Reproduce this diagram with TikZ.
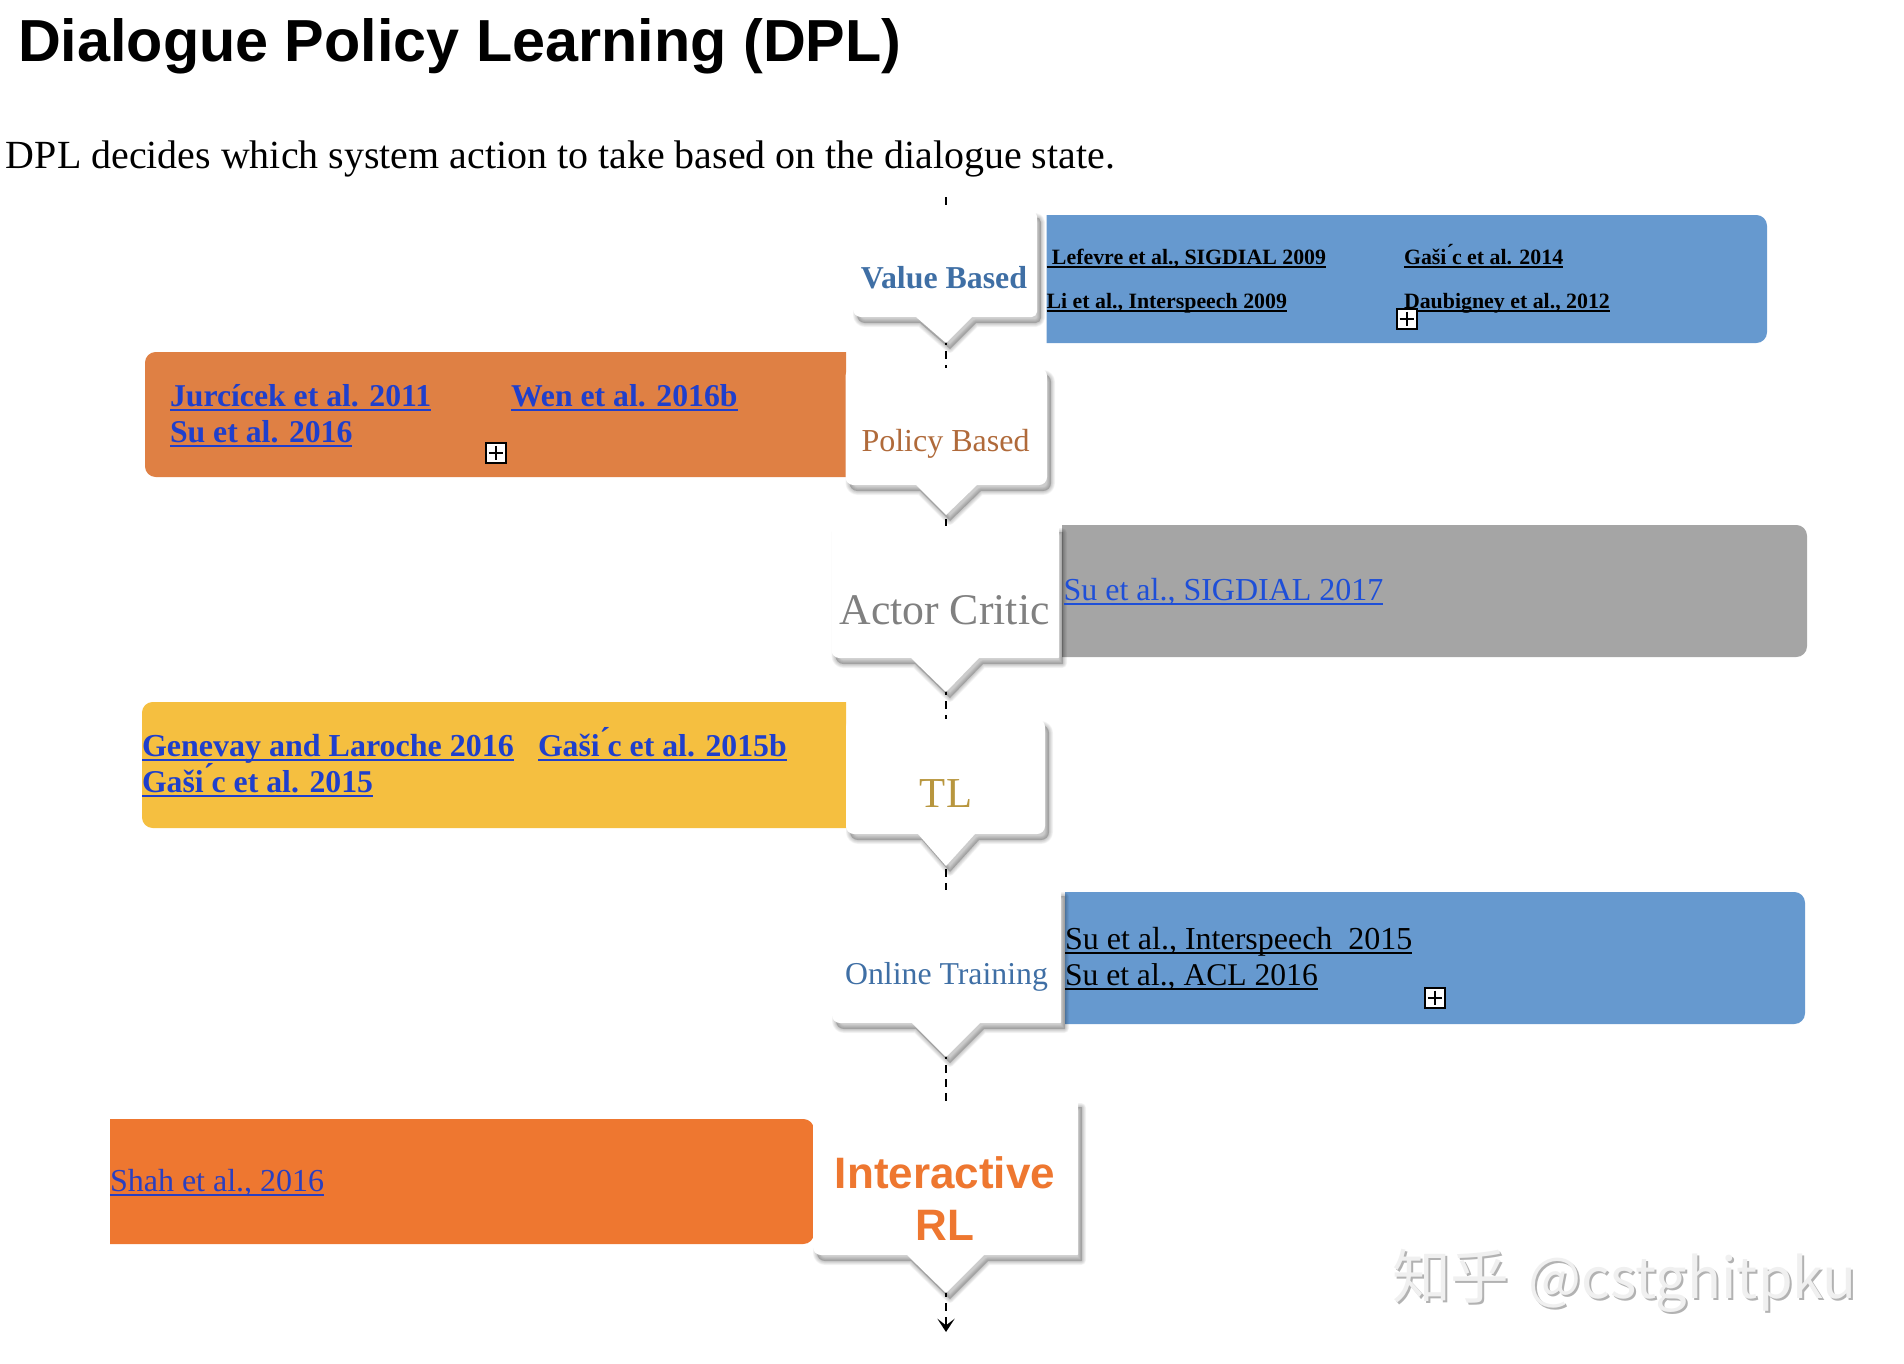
\documentclass[tikz,border=0pt]{standalone}
\usepackage{fontspec}
\setmainfont{Liberation Serif}
\newfontfamily\helv{Liberation Sans}
\newfontfamily\cjk{Noto Sans CJK SC}
\usetikzlibrary{arrows.meta}
\definecolor{cblue}{HTML}{6699CF}
\definecolor{corange}{HTML}{DF8044}
\definecolor{cgrey}{HTML}{A5A5A5}
\definecolor{cyellow}{HTML}{F5BF40}
\definecolor{corangeb}{HTML}{EE7730}
\definecolor{lnkblue}{HTML}{1F3FCC}
\definecolor{lnkreg}{HTML}{1E4FD8}
\definecolor{lnkshah}{HTML}{2A3FC0}
\definecolor{tblue}{HTML}{3F6FA5}
\definecolor{tbrown}{HTML}{B06A3A}
\definecolor{tgrey}{HTML}{808080}
\definecolor{tgold}{HTML}{B8963E}
\newcommand{\fsz}[1]{\fontsize{#1pt}{#1pt}\selectfont}
\newcommand{\lnk}[1]{\setbox0\hbox{#1}\leavevmode\rlap{\copy0}\raisebox{-.17em}{\rule{\wd0}{.065em}}}
\newcommand{\gasi}{Gaši\raisebox{.22em}{´}\kern-.08em c}
% name, x1,y1,x2,y2, notch left, notch right, tip y, right radius
\newcommand{\callout}[9]{%
  \fill[black,opacity=.20,shift={(4,6)}] (#2,#3) [rounded corners=6] -- (#2,#5) [sharp corners] -- (#6,#5) -- (946,#8) -- (#7,#5) [rounded corners=#9] -- (#4,#5) -- (#4,#3) -- cycle;
  \foreach \wd in {1,2,3,4,5,6}{%
    \draw[black,opacity=.04,line join=round,line width=\wd pt,shift={(4,6)}] (#2,#3) [rounded corners=6] -- (#2,#5) [sharp corners] -- (#6,#5) -- (946,#8) -- (#7,#5) [rounded corners=#9] -- (#4,#5) -- (#4,#3) -- cycle;}
  \fill[white] (#2,#3) [rounded corners=6] -- (#2,#5) [sharp corners] -- (#6,#5) -- (946,#8) -- (#7,#5) [rounded corners=#9] -- (#4,#5) -- (#4,#3) -- cycle;
  \coordinate (#1) at (946,#3);}
\newcommand{\boxR}[5]{\fill[#5] (#1,#2) -- (#1,#4) [rounded corners=8] -- (#3,#4) -- (#3,#2) [sharp corners] -- cycle;}
\newcommand{\boxL}[5]{\fill[#5] (#3,#2) -- (#3,#4) [rounded corners=8] -- (#1,#4) -- (#1,#2) [sharp corners] -- cycle;}
\newcommand{\plusbox}[3]{%
  \node[draw=black,line width=1.5pt,fill=white,minimum size=15pt,inner sep=0pt,outer sep=0pt] (#1) at (#2,#3) {};
  \draw[black,line width=1pt] ([yshift=5.5pt]#1.center) -- ([yshift=-5.5pt]#1.center) ([xshift=-5.5pt]#1.center) -- ([xshift=5.5pt]#1.center);}
\tikzset{
  txt/.style={anchor=base west,inner sep=0pt,outer sep=0pt},
  ctxt/.style={anchor=base,inner sep=0pt,outer sep=0pt,align=center},
  smallbold/.style={txt,font=\fsz{16.4}\bfseries,text=black},
  bigbold/.style={txt,font=\fsz{23.8}\bfseries,text=lnkblue},
  regular/.style={txt,font=\fsz{24}},
  spine/.style={black,line width=1.5pt,dash pattern=on 6pt off 4.5pt,-{Stealth[length=10pt,width=13pt,inset=5pt]}}
}
\begin{document}
\begin{tikzpicture}[x=.75pt,y=-.75pt]
\useasboundingbox (0,0) rectangle (1904,1364);
\node[txt,font=\helv\fsz{44.5}\bfseries] (title) at (18,61) {Dialogue Policy Learning (DPL)};
\node[txt,font=\fsz{29.95}] (subtitle) at (6,168) {DPL decides which system action to take based on the dialogue state.};
\coordinate (spinetop) at (946,197);
\coordinate (spineend) at (946,1332);
\draw[spine] (spinetop) -- (spineend);
\boxR{1046.5}{215}{1767}{343}{cblue}
\boxL{145}{352}{846}{477}{corange}
\boxR{1062}{525}{1807}{657}{cgrey}
\boxL{142}{702}{846}{828}{cyellow}
\boxR{1065}{892}{1805}{1024}{cblue}
\boxR{110}{1119}{814}{1244}{corangeb}
\callout{cvalue}{853}{211}{1037}{317}{916}{972}{343}{4}
\callout{cpolicy}{845.5}{368}{1047}{485}{916}{977}{515}{6}
\callout{cactor}{831.5}{526}{1059}{658}{911}{979}{692}{0.5}
\callout{ctl}{846}{719}{1045}{834}{918}{975}{866}{6}
\callout{conline}{832}{890}{1061}{1023}{912}{980}{1057}{0.5}
\callout{cinter}{813}{1101}{1078}{1255}{907}{984}{1293}{0.5}
% callout labels
\node[ctxt,font=\fsz{23.9}\bfseries,text=tblue] (lvalue) at (944,288) {Value Based};
\node[ctxt,font=\fsz{24},text=tbrown] (lpolicy) at (945.5,451) {Policy Based};
\node[ctxt,font=\fsz{32.8},text=tgrey] (lactor) at (944.5,624) {Actor Critic};
\node[ctxt,font=\fsz{32},text=tgold] (ltl) at (946,807) {TL};
\node[ctxt,font=\fsz{23.85},text=tblue] (lonline) at (946.5,984) {Online Training};
\node[ctxt,font=\helv\fsz{33}\bfseries,text=corangeb] (linter) at (945,1188) {Interactive};
\node[ctxt,font=\helv\fsz{33}\bfseries,text=corangeb] (lrl) at (945,1240) {RL};
% references
\node[smallbold] (r1) at (1046.5,264) {\lnk{\ Lefevre et al., SIGDIAL 2009}};
\node[smallbold] (r2) at (1404,264) {\lnk{\gasi{} et al. 2014}};
\node[smallbold] (r3) at (1046.5,308) {\lnk{Li et al., Interspeech 2009}};
\node[smallbold] (r4) at (1404,308) {\lnk{Daubigney et al., 2012}};
\plusbox{p1}{1407}{319}
\node[bigbold] (r5) at (170,406) {\lnk{Jurcícek et al. 2011}};
\node[bigbold] (r6) at (511,406) {\lnk{Wen et al. 2016b}};
\node[bigbold] (r7) at (170,442) {\lnk{Su et al. 2016}};
\plusbox{p2}{496}{453}
\node[regular,text=lnkreg] (r8) at (1063.5,600) {\lnk{Su et al., SIGDIAL 2017}};
\node[bigbold,font=\fsz{24}\bfseries] (r9) at (142,756) {\lnk{Genevay and Laroche 2016}};
\node[bigbold] (r10) at (538,756) {\lnk{\gasi{} et al. 2015b}};
\node[bigbold] (r11) at (142,792) {\lnk{\gasi{} et al. 2015}};
\node[regular,text=black] (r12) at (1065,949) {\lnk{Su et al., Interspeech\ \ 2015}};
\node[regular,text=black,font=\fsz{23.7}] (r13) at (1065,985) {\lnk{Su et al., ACL 2016}};
\plusbox{p3}{1435}{998}
\node[regular,text=lnkshah] (r14) at (110,1191) {\lnk{Shah et al., 2016}};
% watermark
\node[txt,font=\cjk\fsz{42},text=black!30] (wms) at (1394,1300) {{\fsz{44}知乎}\kern.35em @cstghitpku};
\node[txt,font=\cjk\fsz{42},text=black!6] (wm) at (1392,1298) {{\fsz{44}知乎}\kern.35em @cstghitpku};
\end{tikzpicture}
\end{document}
